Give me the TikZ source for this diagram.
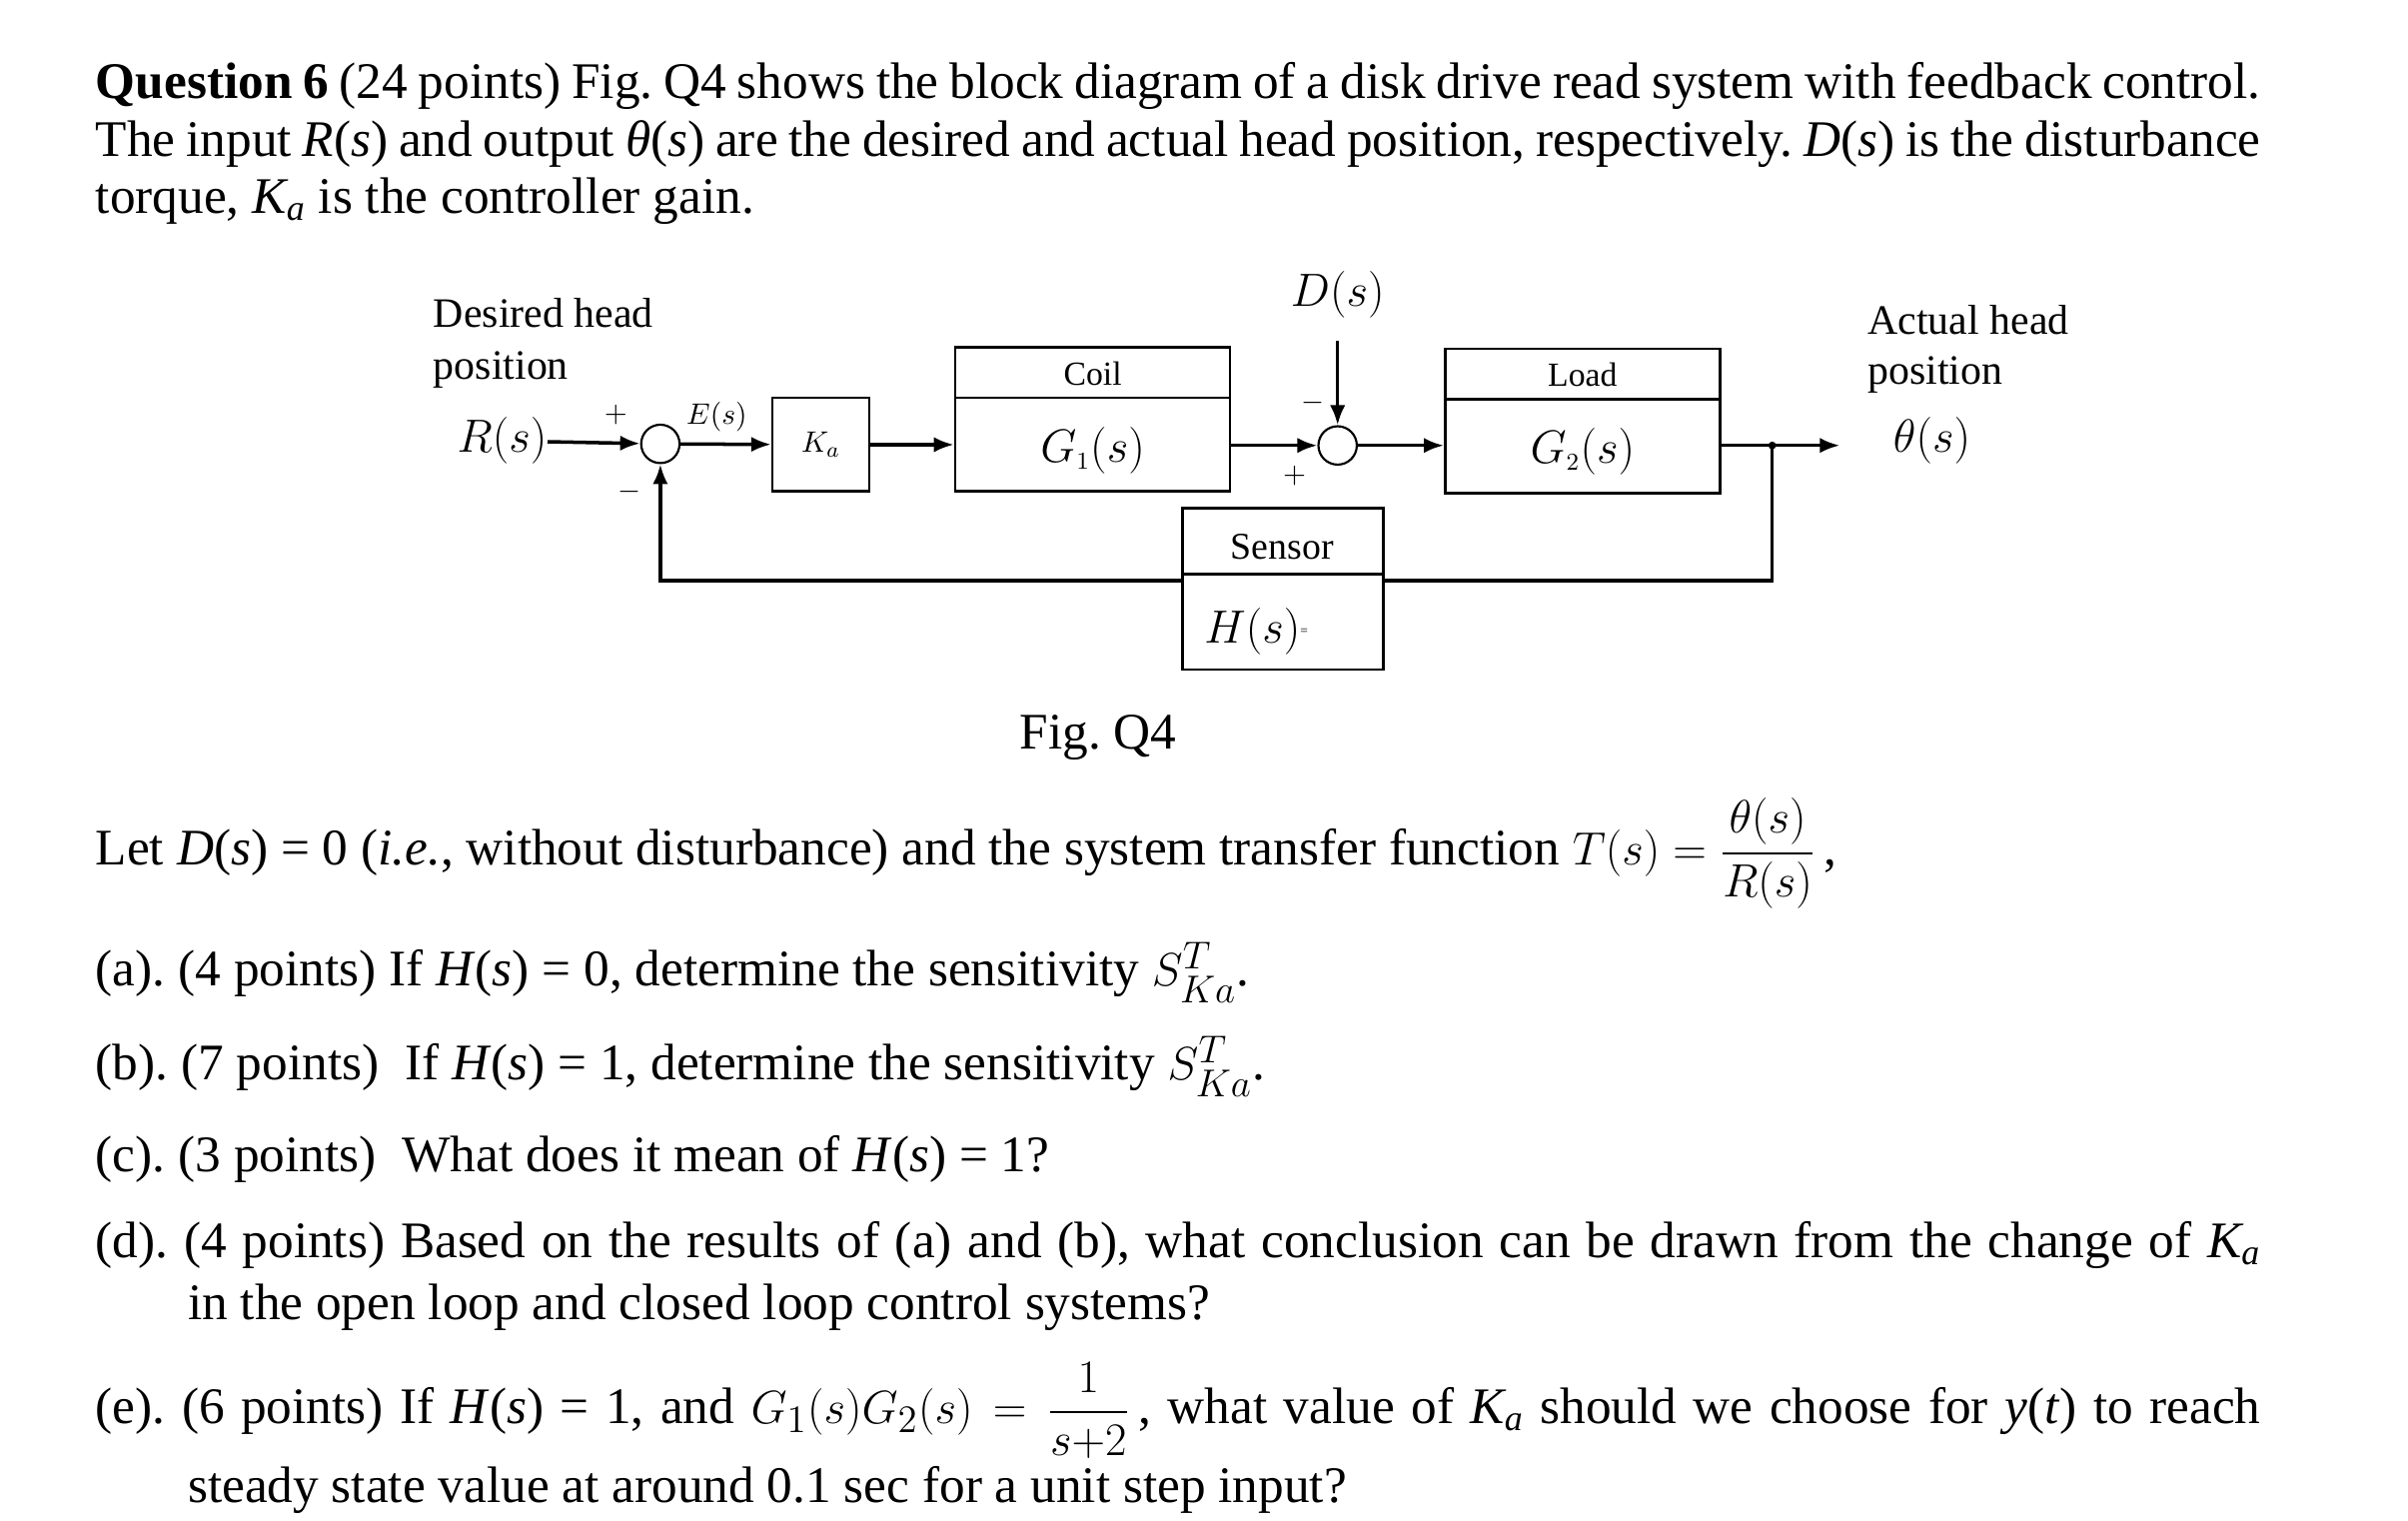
\documentclass[tikz,border=0pt]{standalone}
\usepackage{fontspec}
\usepackage{amsmath}
\setmainfont{Liberation Serif}
\usetikzlibrary{positioning,arrows.meta}
\frenchspacing

\begin{document}
\begin{tikzpicture}[x=0.02cm, y=-0.02cm, >={Latex[length=2.6mm,width=2mm]},
    every node/.style={inner sep=0pt},
    body/.style={anchor=base west, font=\fontsize{19}{22}\selectfont},
    diag/.style={font=\fontsize{15.5}{18}\selectfont},
    blk/.style={draw, line width=1pt},
    sum/.style={draw, circle, minimum size=0.5cm, line width=0.8pt},
    sig/.style={->, line width=1.3pt},
    tiny/.style={font=\fontsize{11}{12}\selectfont}]
    \useasboundingbox (0,0) rectangle (1568,990);

    % Question text
    \node[body] (q1) at (62,64) {\makebox[28.2cm][s]{\textbf{Question 6} (24 points) Fig. Q4 shows the block diagram of a disk drive read system with feedback control.}};
    \node[body] (q2) at (62,102) {\makebox[28.2cm][s]{The input \textit{R}(\textit{s}) and output \textit{θ}(\textit{s}) are the desired and actual head position, respectively. \textit{D}(\textit{s}) is the disturbance}};
    \node[body] (q3) at (62,139) {torque, \textit{K\textsubscript{a}} is the controller gain.};

    % Block diagram
    \node[diag, anchor=west] (desired) at (282,204) {Desired head};
    \node[diag, anchor=west] (dpos) at (282,241) {position};
    \node[diag] (rin) at (327,287) {\fontsize{19}{21}\selectfont$R(s)$};
    \node[sum] (s1) at (430,289) {};
    \node[blk, minimum width=1.26cm, minimum height=1.22cm] (ka) at (534.5,289.5) {\fontsize{11}{12}\selectfont$K_a$};
    \node[blk, minimum width=3.58cm, minimum height=1.88cm] (coil) at (711.5,273) {};
    \draw[line width=1pt] (622,259) -- (801,259);
    \node[tiny] (coilt) at (711.5,243) {\fontsize{12.5}{13}\selectfont Coil};
    \node[diag] (g1) at (711.5,293) {\fontsize{18}{20}\selectfont$G_{\scriptscriptstyle 1}(s)$};
    \node[sum] (s2) at (871,290) {};
    \node[diag] (dist) at (871,192) {\fontsize{18}{20}\selectfont$D(s)$};
    \coordinate (dtop) at (871,222);
    \node[blk, minimum width=3.58cm, minimum height=1.88cm] (load) at (1030.5,274) {};
    \draw[line width=1pt] (941,260) -- (1120,260);
    \node[tiny] (loadt) at (1030.5,244) {\fontsize{12.5}{13}\selectfont Load};
    \node[diag] (g2) at (1030.5,294) {\fontsize{18}{20}\selectfont$G_{\scriptscriptstyle 2}(s)$};
    \coordinate (br) at (1154,290);
    \coordinate (out) at (1198,290);
    \node[diag] (theta) at (1258,287) {\fontsize{19}{21}\selectfont$\theta(s)$};
    \node[diag, anchor=west] (actual) at (1216,208) {Actual head};
    \node[diag, anchor=west] (apos) at (1216,244) {position};
    \node[blk, minimum width=2.62cm, minimum height=2.1cm] (sens) at (835.5,383.5) {};
    \draw[line width=1pt] (770,374) -- (901,374);
    \node[diag] (senst) at (835,356) {\fontsize{14}{15}\selectfont Sensor};
    \node[diag] (hs) at (818,411) {\fontsize{17}{18}\selectfont$H(s)$\raisebox{3pt}{\tiny=}};
    \coordinate (fbr) at (1154,378);
    \coordinate (fbl) at (430,378);

    \draw[sig] (rin) -- (s1);
    \draw[sig] (s1) -- node[tiny, above=4pt, pos=0.4] {$E(s)$} (ka);
    \draw[sig] (ka) -- (ka -| coil.west);
    \draw[sig] (s2 -| coil.east) -- (s2);
    \draw[sig] (s2) -- (s2 -| load.west);
    \draw[sig] (dtop) -- (s2);
    \draw[line width=1.3pt] (br -| load.east) -- (br);
    \draw[sig] (br) -- (out);
    \fill (br) circle (2.5);
    \draw[line width=1.3pt] (br) -- (fbr) -- (fbr -| sens.east);
    \draw[sig] (fbr -| sens.west) -- (fbl) -- (s1);
    \node[tiny] (p1) at (401,270) {$+$};
    \node[tiny] (m1) at (410,320) {$-$};
    \node[tiny] (m2) at (855,262) {$-$};
    \node[tiny] (p2) at (843,310) {$+$};

    \node[body, anchor=center] (fig) at (715,480) {Fig. Q4};

    % Questions
    \node[body] (let) at (62,563) {Let \textit{D}(\textit{s}) = 0 (\textit{i.e.}, without disturbance) and the system transfer function $T(s) = \dfrac{\theta(s)}{R(s)}$\,,};
    \node[body] (qa) at (62,642) {(a). (4 points) If \textit{H}(\textit{s}) = 0, determine the sensitivity $S^{T}_{Ka}$.};
    \node[body] (qb) at (62,703) {(b). (7 points)\ \ If \textit{H}(\textit{s}) = 1, determine the sensitivity $S^{T}_{Ka}$.};
    \node[body] (qc) at (62,763) {(c). (3 points)\ \ What does it mean of \textit{H}(\textit{s}) = 1?};
    \node[body] (qd) at (62,819) {\makebox[28.2cm][s]{(d). (4 points) Based on the results of (a) and (b), what conclusion can be drawn from the change of \textit{K\textsubscript{a}}}};
    \node[body] (qd2) at (122,859) {in the open loop and closed loop control systems?};
    \node[body] (qe) at (62,927) {\makebox[28.2cm][s]{(e). (6 points) If \textit{H}(\textit{s}) = 1, and $G_1(s)G_2(s) = \dfrac{1}{s{+}2}$\,, what value of \textit{K\textsubscript{a}} should we choose for \textit{y}(\textit{t}) to reach}};
    \node[body] (qe2) at (122,978) {steady state value at around 0.1 sec for a unit step input?};
\end{tikzpicture}
\end{document}
